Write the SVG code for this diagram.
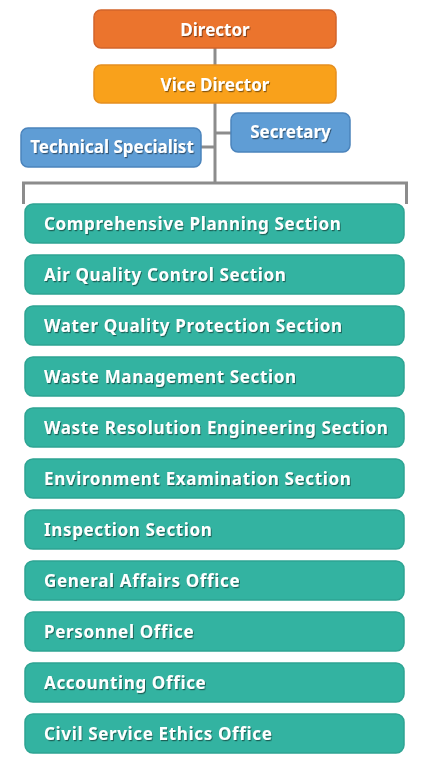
<svg xmlns="http://www.w3.org/2000/svg" width="429" height="768" viewBox="0 0 429 768">
<defs>
<filter id="ts" x="-10%" y="-30%" width="120%" height="160%">
<feDropShadow dx="1" dy="1.2" stdDeviation="0.6" flood-color="#000" flood-opacity="0.45"/>
</filter>
<style>
.lbl{font-family:"Noto Sans","Open Sans",sans-serif;font-weight:bold;font-size:17px;fill:#fff;filter:url(#ts)}
.c{text-anchor:middle}
.sec{letter-spacing:0.65px}
.dir{fill:#EB742D;stroke:#D2642B;stroke-width:1.5}
.vice{fill:#F9A11B;stroke:#E58F20;stroke-width:1.5}
.blue{fill:#5F9DD5;stroke:#4B84BC;stroke-width:1.5}
.green{fill:#33B3A1;stroke:#2EA493;stroke-width:1.5}
.ln{stroke:#8C8C8C;stroke-width:3;fill:none}
</style>
</defs>
<rect width="429" height="768" fill="#fff"/>
<g id="connectors">
<line class="ln" x1="215" y1="48" x2="215" y2="65"/>
<line class="ln" x1="215" y1="103" x2="215" y2="183"/>
<line class="ln" x1="215" y1="133" x2="231" y2="133"/>
<line class="ln" x1="201" y1="147" x2="215" y2="147"/>
<polyline class="ln" points="23.5,204 23.5,183 406.5,183 406.5,204"/>
</g>
<g id="director"><rect class="dir" x="94" y="10" width="242" height="38" rx="7"/><text class="lbl c" x="215" y="36">Director</text></g>
<g id="vice-director"><rect class="vice" x="94" y="65" width="242" height="38" rx="7"/><text class="lbl c" x="215" y="91">Vice Director</text></g>
<g id="secretary"><rect class="blue" x="231" y="113" width="119" height="39" rx="7"/><text class="lbl c" x="290.5" y="138">Secretary</text></g>
<g id="technical-specialist"><rect class="blue" x="21" y="128" width="180" height="39" rx="7"/><text class="lbl c" x="112" y="153">Technical Specialist</text></g>
<g id="s1"><rect class="green" x="25" y="204" width="379" height="39" rx="8"/><text class="lbl sec" x="44" y="230">Comprehensive Planning Section</text></g>
<g id="s2"><rect class="green" x="25" y="255" width="379" height="39" rx="8"/><text class="lbl sec" x="44" y="281">Air Quality Control Section</text></g>
<g id="s3"><rect class="green" x="25" y="306" width="379" height="39" rx="8"/><text class="lbl sec" x="44" y="332">Water Quality Protection Section</text></g>
<g id="s4"><rect class="green" x="25" y="357" width="379" height="39" rx="8"/><text class="lbl sec" x="44" y="383">Waste Management Section</text></g>
<g id="s5"><rect class="green" x="25" y="408" width="379" height="39" rx="8"/><text class="lbl sec" x="44" y="434">Waste Resolution Engineering Section</text></g>
<g id="s6"><rect class="green" x="25" y="459" width="379" height="39" rx="8"/><text class="lbl sec" x="44" y="485">Environment Examination Section</text></g>
<g id="s7"><rect class="green" x="25" y="510" width="379" height="39" rx="8"/><text class="lbl sec" x="44" y="536">Inspection Section</text></g>
<g id="s8"><rect class="green" x="25" y="561" width="379" height="39" rx="8"/><text class="lbl sec" x="44" y="587">General Affairs Office</text></g>
<g id="s9"><rect class="green" x="25" y="612" width="379" height="39" rx="8"/><text class="lbl sec" x="44" y="638">Personnel Office</text></g>
<g id="s10"><rect class="green" x="25" y="663" width="379" height="39" rx="8"/><text class="lbl sec" x="44" y="689">Accounting Office</text></g>
<g id="s11"><rect class="green" x="25" y="714" width="379" height="39" rx="8"/><text class="lbl sec" x="44" y="740">Civil Service Ethics Office</text></g>
</svg>
